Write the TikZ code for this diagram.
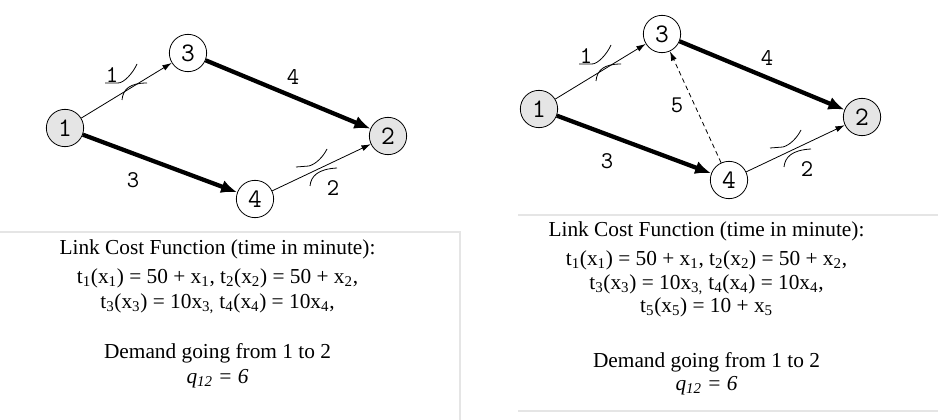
\documentclass[tikz,border=0pt]{standalone}
\usepackage{fontspec}
\setmainfont{Liberation Serif}
\usetikzlibrary{calc,positioning,arrows.meta}
\newcommand{\ix}[1]{\textsubscript{#1}}

\begin{document}
\begin{tikzpicture}[x=0.75pt,y=-0.75pt,
		main/.style = {draw, circle, minimum size=28pt, inner sep=0pt, line width=0.6pt, font=\ttfamily\fontsize{20}{20}\selectfont},
		ends/.style = {main, fill=black!10},
		lbl/.style = {font=\ttfamily\fontsize{18}{18}\selectfont},
		thinarc/.style = {line width=0.6pt, -{Latex[length=7pt,width=4.5pt]}},
		heavyarc/.style = {line width=3.2pt, -{Latex[length=12pt,width=10pt]}},
		hook/.style = {line width=0.6pt},
		boxline/.style = {black!10, line width=0.8pt},
		txt/.style = {anchor=base, font=\fontsize{16}{19}\selectfont}]
	\useasboundingbox (0,0) rectangle (938,420);
	% network without link 5
	\begin{scope}
		\node[ends] (a1) at (65,128) {1};
		\node[main] (a3) at (188,53) {3};
		\node[main] (a4) at (255,199) {4};
		\node[ends] (a2) at (388,136) {2};
		\draw[thinarc] (a1) -- (a3);
		\draw[heavyarc] (a3) -- (a2);
		\draw[heavyarc] (a1) -- (a4);
		\draw[thinarc] (a4) -- (a2);
		\node[lbl] (la13) at (112,75) {1};
		\node[lbl] (la32) at (293,77) {4};
		\node[lbl] (la14) at (133,180) {3};
		\node[lbl] (la42) at (333,188) {2};
		\draw[hook] (105,83) -- (118,83) .. controls (124,83) and (133,73) .. (137,64);
		\draw[hook] (122,100) .. controls (123,89) and (130,83) .. (147,83);
		\draw[hook] (296,167) -- (309,166) .. controls (316,164) and (323,157) .. (327,149);
		\draw[hook] (310,186) .. controls (311,176) and (318,169) .. (337,168);
	\end{scope}
	% network with link 5
	\begin{scope}[shift={(474,-19)}]
		\node[ends] (b1) at (65,128) {1};
		\node[main] (b3) at (188,53) {3};
		\node[main] (b4) at (255,199) {4};
		\node[ends] (b2) at (388,136) {2};
		\draw[thinarc] (b1) -- (b3);
		\draw[heavyarc] (b3) -- (b2);
		\draw[heavyarc] (b1) -- (b4);
		\draw[thinarc] (b4) -- (b2);
		\draw[thinarc, dash pattern=on 3.5pt off 2.5pt] (b4) -- (b3);
		\node[lbl] (lb13) at (112,75) {1};
		\node[lbl] (lb32) at (293,77) {4};
		\node[lbl] (lb14) at (133,180) {3};
		\node[lbl] (lb42) at (333,188) {2};
		\node[lbl] (lb43) at (203,124) {5};
		\draw[hook] (105,83) -- (118,83) .. controls (124,83) and (133,73) .. (137,64);
		\draw[hook] (122,100) .. controls (123,89) and (130,83) .. (147,83);
		\draw[hook] (296,167) -- (309,166) .. controls (316,164) and (323,157) .. (327,149);
		\draw[hook] (310,186) .. controls (311,176) and (318,169) .. (337,168);
	\end{scope}
	% text boxes
	\draw[boxline] (0,232) -- (460,232) -- (460,420);
	\draw[boxline] (518,215) -- (938,215);
	\draw[boxline] (518,411) -- (938,411);
	\node[txt] (c1) at (217.5,254) {Link Cost Function (time in minute):};
	\node[txt] (c2) at (217.5,283) {t\ix{1}(x\ix{1}) = 50 + x\ix{1}, t\ix{2}(x\ix{2}) = 50 + x\ix{2},};
	\node[txt] (c3) at (217.5,308) {t\ix{3}(x\ix{3}) = 10x\ix{3,} t\ix{4}(x\ix{4}) = 10x\ix{4},};
	\node[txt] (d1) at (217.5,358) {Demand going from 1 to 2};
	\node[txt] (d2) at (217.5,383) {\textit{q\ix{12} = 6}};
	\node[txt] (e1) at (706.5,237) {Link Cost Function (time in minute):};
	\node[txt] (e2) at (706.5,265) {t\ix{1}(x\ix{1}) = 50 + x\ix{1}, t\ix{2}(x\ix{2}) = 50 + x\ix{2},};
	\node[txt] (e3) at (706.5,289) {t\ix{3}(x\ix{3}) = 10x\ix{3,} t\ix{4}(x\ix{4}) = 10x\ix{4},};
	\node[txt] (e4) at (706.5,312) {t\ix{5}(x\ix{5}) = 10 + x\ix{5}};
	\node[txt] (f1) at (706.5,367) {Demand going from 1 to 2};
	\node[txt] (f2) at (706.5,390) {\textit{q\ix{12} = 6}};
\end{tikzpicture}
\end{document}
